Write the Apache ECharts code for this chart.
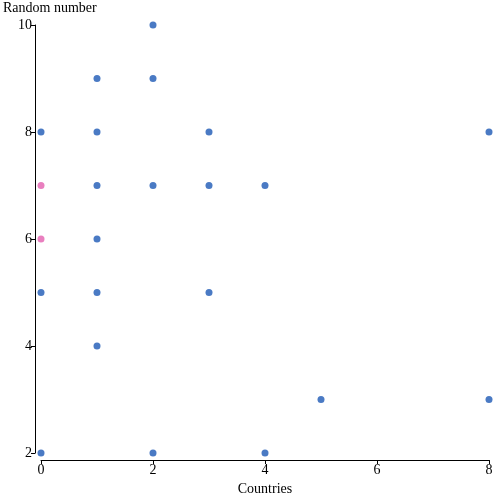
<!DOCTYPE html>
<html>
<head>
<meta charset="utf-8">
<script src="https://cdn.jsdelivr.net/npm/echarts@6/dist/echarts.min.js"></script>
<style>html,body{margin:0;padding:0;background:#fff}#chart{width:501px;height:501px}</style>
</head>
<body>
<div id="chart"></div>
<script>
// blue points [country, random number]
var bluePoints = [
    [0, 8], [0, 5], [0, 2],
    [1, 9], [1, 8], [1, 7], [1, 6], [1, 5], [1, 4],
    [2, 10], [2, 9], [2, 7], [2, 2],
    [3, 8], [3, 7], [3, 5],
    [4, 7], [4, 2],
    [5, 3],
    [8, 8], [8, 3]
];
// pink points
var pinkPoints = [[0, 7], [0, 6]];
var xTicks = [0, 2, 4, 6, 8];
var yTicks = [2, 4, 6, 8, 10];

var font = 'Liberation Serif, Times New Roman, serif';
var chart = echarts.init(document.getElementById('chart'));
var axisCommon = {
    axisLine: {onZero: false, lineStyle: {color: '#000', width: 1}},
    axisTick: {show: true, length: 4, lineStyle: {color: '#000'}},
    axisLabel: {color: '#000', fontFamily: font, fontSize: 14, margin: 3},
    splitLine: {show: false},
    nameTextStyle: {color: '#000', fontFamily: font, fontSize: 14}
};
chart.setOption({
    animation: false,
    grid: {left: 33, right: 12, top: 25, bottom: 47},
    xAxis: Object.assign({}, axisCommon, {
        type: 'value', min: xTicks[0], max: xTicks[xTicks.length - 1], interval: 2,
        offset: 7,
        name: 'Countries', nameLocation: 'middle', nameGap: 19
    }),
    yAxis: Object.assign({}, axisCommon, {
        type: 'value', min: yTicks[0], max: yTicks[yTicks.length - 1], interval: 2,
        offset: 6,
        name: 'Random number',
        nameTextStyle: {color: '#000', fontFamily: font, fontSize: 14, align: 'left', padding: [0, 0, 0, -32]},
        nameGap: 10
    }),
    series: [
        {type: 'scatter', data: bluePoints, symbolSize: 7, itemStyle: {color: '#4a7ac4', opacity: 1}},
        {type: 'scatter', data: pinkPoints, symbolSize: 7, itemStyle: {color: '#e97fbf', opacity: 1}}
    ]
});
</script>
</body>
</html>
